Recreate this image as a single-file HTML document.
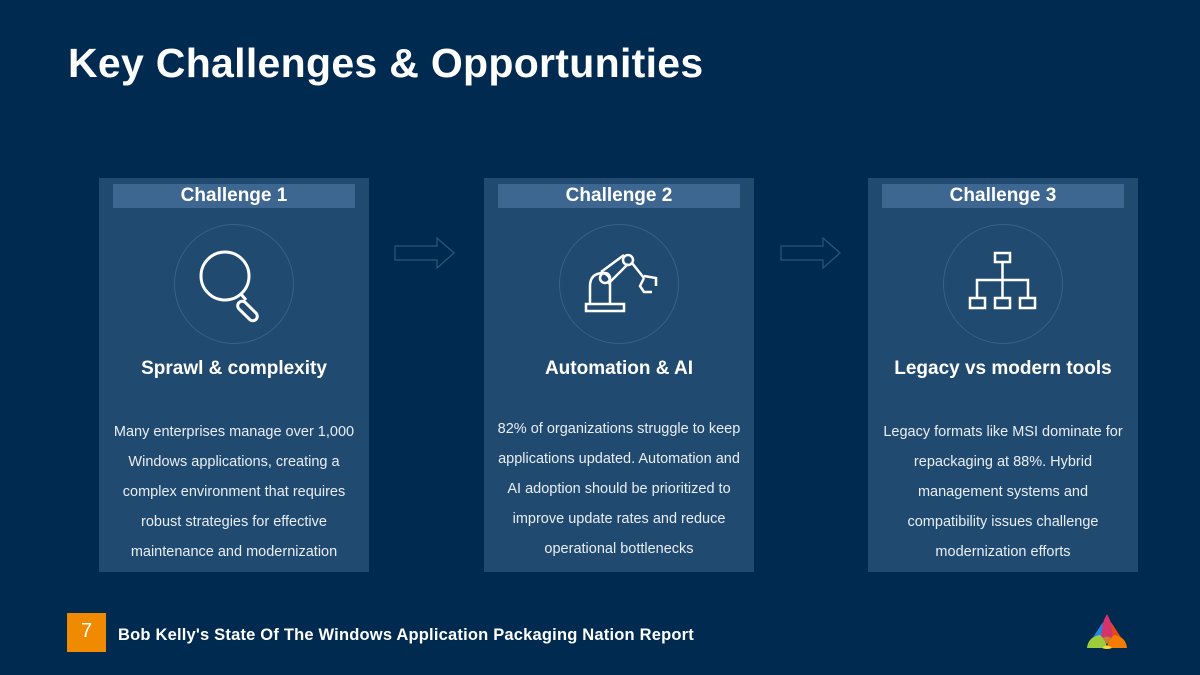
<!DOCTYPE html>
<html><head><meta charset="utf-8"><style>
*{margin:0;padding:0;box-sizing:border-box}
body{width:1200px;height:675px;background:#002a50;font-family:"Liberation Sans",sans-serif;color:#fff;position:relative;overflow:hidden}
.t{position:absolute;left:68px;top:40px;font-size:41px;font-weight:bold;letter-spacing:0.3px}
.card{position:absolute;top:178px;width:270px;height:394px;background:#214a70}
.hd{position:absolute;left:14px;top:6px;width:242px;height:24px;background:#3d6690;text-align:center;font-weight:bold;font-size:19px;line-height:24px}
.circ{position:absolute;left:75px;top:46px;width:120px;height:120px;border-radius:50%;border:1px solid #3a6088}
.ct{position:absolute;left:0;width:270px;top:180px;text-align:center;font-weight:bold;font-size:19px}
.bd{position:absolute;left:0;width:270px;text-align:center;font-size:14.5px;line-height:30px;color:#e8eef5;white-space:nowrap}
.ar{position:absolute;top:236px}
</style></head><body>
<div class="t">Key Challenges &amp; Opportunities</div>

<div class="card" style="left:99px">
<div class="hd">Challenge 1</div><div class="circ"></div>
<svg style="position:absolute;left:0;top:0" width="270" height="180"><circle cx="126" cy="98" r="24" fill="none" stroke="#fff" stroke-width="3"/><line x1="142" y1="116" x2="147" y2="122" stroke="#fff" stroke-width="3"/><rect x="144" y="121" width="9" height="24" rx="4.5" transform="rotate(-45 148.5 133)" fill="none" stroke="#fff" stroke-width="3"/></svg>
<div class="ct">Sprawl &amp; complexity</div>
<div class="bd" style="top:239px">Many enterprises manage over 1,000<br>Windows applications, creating a<br>complex environment that requires<br>robust strategies for effective<br>maintenance and modernization</div>
</div>

<div class="card" style="left:484px">
<div class="hd">Challenge 2</div><div class="circ"></div>
<svg style="position:absolute;left:0;top:0" width="270" height="180" fill="none" stroke="#fff" stroke-width="2.5"><rect x="102" y="126" width="38" height="7"/><path d="M106 126 V108 Q106 96 118 95 Q126 96 126 104 L126 126"/><circle cx="121" cy="100" r="5"/><line x1="117" y1="94" x2="140" y2="77"/><line x1="124" y1="106" x2="144" y2="86"/><circle cx="144" cy="82" r="5"/><line x1="148" y1="85" x2="160" y2="100"/><path d="M160 98 l12 2 0 8 M160 100 l-4 8 4 6 8 0"/></svg>
<div class="ct">Automation &amp; AI</div>
<div class="bd" style="top:236px">82% of organizations struggle to keep<br>applications updated. Automation and<br>AI adoption should be prioritized to<br>improve update rates and reduce<br>operational bottlenecks</div>
</div>

<div class="card" style="left:868px">
<div class="hd">Challenge 3</div><div class="circ"></div>
<svg style="position:absolute;left:0;top:0" width="270" height="180" fill="none" stroke="#fff" stroke-width="2.5"><rect x="127" y="75" width="15" height="9"/><path d="M134.5 84 V119 M109 119 V102 H160 V119"/><rect x="102" y="120" width="15" height="10"/><rect x="127" y="120" width="15" height="10"/><rect x="152" y="120" width="15" height="10"/></svg>
<div class="ct">Legacy vs modern tools</div>
<div class="bd" style="top:239px">Legacy formats like MSI dominate for<br>repackaging at 88%. Hybrid<br>management systems and<br>compatibility issues challenge<br>modernization efforts</div>
</div>

<svg class="ar" style="left:394px" width="64" height="34"><path d="M1 10 H43 V2 L60 17 43 32 V24 H1 Z" fill="none" stroke="#2c5580" stroke-width="1.2"/></svg>
<svg class="ar" style="left:780px" width="64" height="34"><path d="M1 10 H43 V2 L60 17 43 32 V24 H1 Z" fill="none" stroke="#2c5580" stroke-width="1.2"/></svg>

<div style="position:absolute;left:67px;top:613px;width:39px;height:39px;background:#f08a00;text-align:center;font-size:20px;line-height:36px">7</div>
<div style="position:absolute;left:118px;top:626px;font-size:16.5px;font-weight:bold;letter-spacing:0.2px">Bob Kelly's State Of The Windows Application Packaging Nation Report</div>

<svg style="position:absolute;left:1084px;top:610px" width="46" height="42">
<path d="M23 4 Q15 18 17 31 L23 34 L29 31 Q31 18 23 4Z" fill="#d6336c"/>
<path d="M19 12 L6 32 Q12 32 17 28Z" fill="#1e88e5"/>
<path d="M27 12 L40 32 Q34 32 29 28Z" fill="#e64a19"/>
<path d="M3 38 Q4 27 16 25 Q22 30 23 38Z" fill="#9ccc3b"/>
<path d="M43 38 Q42 27 30 25 Q24 30 23 38Z" fill="#f57c00"/>
<path d="M18 38 Q23 33 28 38 Q23 40 18 38Z" fill="#fdd835"/>
<path d="M19 28 L23 34 L27 28 Q23 25 19 28Z" fill="#c7812a"/>
</svg>
</body></html>
